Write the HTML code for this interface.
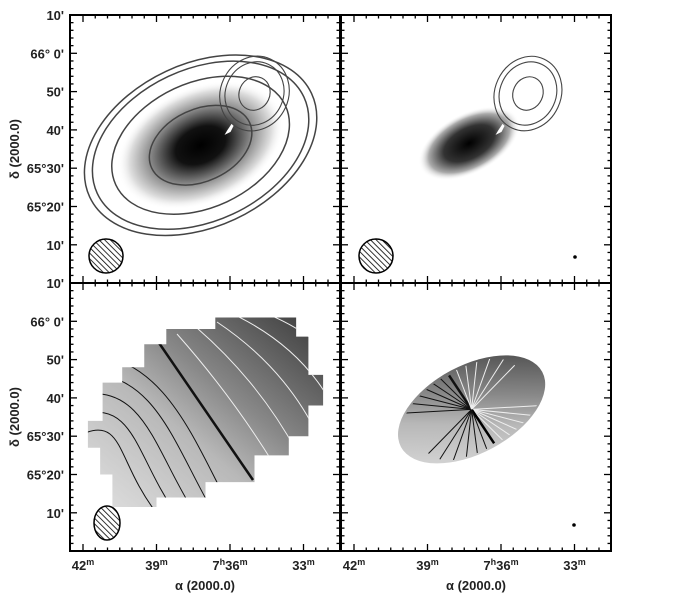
<!DOCTYPE html>
<html><head><meta charset="utf-8"><style>
body{margin:0;background:#fff}
svg{display:block;font-family:"Liberation Sans",sans-serif}
</style></head><body>
<svg id="fig" width="681" height="599" viewBox="0 0 681 599">
<defs>
<radialGradient id="hi" cx="0.5" cy="0.5" r="0.5">
<stop offset="0" stop-color="#000"/><stop offset="0.3" stop-color="#111"/><stop offset="0.6" stop-color="#888"/><stop offset="0.85" stop-color="#ddd"/><stop offset="1" stop-color="#fff" stop-opacity="0"/>
</radialGradient>
<radialGradient id="opt" cx="0.5" cy="0.5" r="0.5">
<stop offset="0" stop-color="#000"/><stop offset="0.5" stop-color="#333"/><stop offset="0.8" stop-color="#aaa"/><stop offset="1" stop-color="#fff" stop-opacity="0"/>
</radialGradient>
<linearGradient id="vel" x1="0" y1="1" x2="1" y2="0">
<stop offset="0" stop-color="#e0e0e0"/><stop offset="0.4" stop-color="#b8b8b8"/><stop offset="0.6" stop-color="#888"/><stop offset="1" stop-color="#3a3a3a"/>
</linearGradient>
<pattern id="hatch" width="4" height="4" patternUnits="userSpaceOnUse" patternTransform="rotate(-45)">
<rect width="4" height="4" fill="#fff"/><line x1="0" y1="0" x2="0" y2="4" stroke="#000" stroke-width="1.6"/>
</pattern>
<clipPath id="velclip"><polygon id="velclipPoly" points=""/></clipPath>
<clipPath id="optclip"><ellipse id="optclipEl"/></clipPath>
</defs>
<g id="content"></g>
<g id="axes"></g>
</svg>
<script>
const yTickLabels=["10'","66° 0'","50'","40'","65°30'","65°20'","10'"];
const yTickVals=[70,60,50,40,30,20,10];
const xTickLabels=["42","39","7h36","33"];
const xTickVals=[42,39,36,33];
const hiLevels=[0.45,0.78,0.95,1.02];
const velLevelsLeft=[-5,-4,-3,-2,-1,0,1,2,3,4,5];
const velLevelsRight=[-6,-5,-4,-3,-2,-1,0,1,2,3,4,5,6];

const NS="http://www.w3.org/2000/svg";
const content=document.getElementById('content');
const axes=document.getElementById('axes');
function mk(tag,attrs,parent){const e=document.createElementNS(NS,tag);for(const k in attrs)e.setAttribute(k,attrs[k]);(parent||content).appendChild(e);return e;}

const panels=[{x0:70,y0:15},{x0:341,y0:15},{x0:70,y0:283},{x0:341,y0:283}];
const PW=270,PH=268;
function xs(p,ra){return panels[p].x0+13+(42-ra)*24.5;}
function ys(p,dm){return panels[p].y0+(70-dm)*3.83;}

(function(){
  const cx=xs(0,37.2),cy=ys(0,36);
  let g=mk('g',{transform:`rotate(-25 ${cx} ${cy})`});
  
  mk('ellipse',{cx,cy,rx:88,ry:58,fill:'url(#hi)'},g);
  hiLevels.forEach((l)=>{
    const e=mk('ellipse',{cx,cy,rx:120*l,ry:80*l,fill:'none',stroke:'#444','stroke-width':1.5},g);
    
  });
  const ox=xs(0,35.0),oy=ys(0,49.5);
  [1,0.85,0.45].forEach(s=>{
    const e=mk('ellipse',{cx:ox,cy:oy,rx:34*s,ry:38*s,fill:'none',stroke:'#444','stroke-width':1.1,transform:`rotate(25 ${ox} ${oy})`});
    
  });
  mk('path',{d:`M${xs(0,36.1)} ${ys(0,40)} l4 -6 l2 2 l-3 6 l-6 3z`,fill:'#fff'});
})();
(function(){
  const cx=xs(1,37.3),cy=ys(1,36.5);
  const e=mk('ellipse',{cx,cy,rx:55,ry:30,fill:'url(#opt)',transform:`rotate(-28 ${cx} ${cy})`});
  
  const ox=xs(1,34.9),oy=ys(1,49.5);
  [1,0.85,0.45].forEach(s=>{
    const c=mk('ellipse',{cx:ox,cy:oy,rx:33*s,ry:38*s,fill:'none',stroke:'#444','stroke-width':1.1,transform:`rotate(25 ${ox} ${oy})`});
    
  });
  mk('path',{d:`M${xs(1,36.1)} ${ys(1,40)} l4 -6 l2 2 l-3 6 l-6 3z`,fill:'#fff'});
  mk('circle',{cx:575,cy:257,r:1.8,fill:'#000'});
})();
(function(){
  const pts=[[41.8,34],[41.2,34],[41.2,44],[40.4,44],[40.4,48],[39.5,48],[39.5,54],[38.6,54],[38.6,58],[36.6,58],[36.6,61],[33.3,61],[33.3,56],[32.8,56],[32.8,46],[32.2,46],[32.2,38],[32.8,38],[32.8,30],[33.6,30],[33.6,25],[35,25],[35,18],[37,18],[37,14],[39,14],[39,11.5],[40.8,11.5],[40.8,20],[41.3,20],[41.3,27],[41.8,27]];
  const ptsStr=pts.map(q=>xs(2,q[0])+','+ys(2,q[1])).join(' ');
  document.getElementById('velclipPoly').setAttribute('points',ptsStr);
  const p=mk('polygon',{points:ptsStr,fill:'url(#vel)'});
  
  const g=mk('g',{'clip-path':'url(#velclip)'});
  velLevelsLeft.forEach(v=>{
    let d;
    if(v>=0){
      const x1=157+v*20,y1=340-v*6, x2=253+v*22,y2=480-v*14;
      d=`M${x1} ${y1} Q${(x1+x2)/2+v*6} ${(y1+y2)/2-v*4} ${x2} ${y2}`;
    }else{
      const k=-v;
      const y0=335+k*16, x2=253-k*19;
      d=`M80 ${y0+k*4} C${175-k*10} ${y0} ${215-k*20} ${440+k*4} ${x2} 515`;
    }
    const l=mk('path',{d,fill:'none',stroke:v<=0?'#111':'#eee','stroke-width':v===0?2.5:1},g);
    
  });
})();
(function(){
  const cx=xs(3,37.2),cy=ys(3,37);
  const e=mk('ellipse',{cx,cy,rx:80,ry:44,fill:'url(#vel)',transform:`rotate(-28 ${cx} ${cy})`});
  
  const ce=document.getElementById('optclipEl');
  ce.setAttribute('cx',cx);ce.setAttribute('cy',cy);ce.setAttribute('rx',78);ce.setAttribute('ry',42);ce.setAttribute('transform',`rotate(-28 ${cx} ${cy})`);
  const g=mk('g',{'clip-path':'url(#optclip)'});
  velLevelsRight.forEach(v=>{
    const a=(-28+90+v*11)*Math.PI/180;
    const r=v===0?48:70;
    const x2=cx+Math.cos(a)*r,y2=cy+Math.sin(a)*r*0.8;
    const l=mk('path',{d:`M${cx} ${cy} L${x2} ${y2}`,fill:'none',stroke:v>0?'#111':(v===0?'#000':'#eee'),'stroke-width':v===0?2.5:1},g);
    const l2=mk('path',{d:`M${cx} ${cy} L${2*cx-x2} ${2*cy-y2}`,fill:'none',stroke:v>0?'#eee':'#111','stroke-width':v===0?2.5:1},g);
    
    
  });
  mk('circle',{cx:574,cy:525,r:1.8,fill:'#000'});
})();
[[0,106,256,17,17],[1,376,256,17,17],[2,107,523,13,17]].forEach(([p,x,y,rx,ry])=>{
  const b=mk('ellipse',{cx:x,cy:y,rx,ry,fill:'url(#hatch)',stroke:'#000','stroke-width':1.5});
  
});
panels.forEach((pn,p)=>{
  const f=mk('rect',{x:pn.x0,y:pn.y0,width:PW,height:PH,fill:'none',stroke:'#000','stroke-width':2},axes);
  
  for(let m=43;m>=31;m-=0.5){
    const x=xs(p,m); if(x<pn.x0+1||x>pn.x0+PW-1)continue;
    const len=(m%3===0)?7:3.5;
    mk('line',{x1:x,y1:pn.y0+PH,x2:x,y2:pn.y0+PH-len,stroke:'#000','stroke-width':1.3},axes);
    mk('line',{x1:x,y1:pn.y0,x2:x,y2:pn.y0+len,stroke:'#000','stroke-width':1.3},axes);
  }
  for(let d=0;d<=70;d+=2){
    const y=ys(p,d); if(y<pn.y0+1||y>pn.y0+PH-1)continue;
    const len=(d%10===0)?7:3.5;
    mk('line',{x1:pn.x0,y1:y,x2:pn.x0+len,y2:y,stroke:'#000','stroke-width':1.3},axes);
    mk('line',{x1:pn.x0+PW,y1:y,x2:pn.x0+PW-len,y2:y,stroke:'#000','stroke-width':1.3},axes);
  }
});
[0,2].forEach(p=>{
  yTickVals.forEach((v,i)=>{
    if(p===2&&i===0)return;
    const t=mk('text',{x:64,y:ys(p,v)+5,'text-anchor':'end','font-size':13,'font-weight':'bold',fill:'#222'},axes);
    t.textContent=yTickLabels[i];
    
  });
  const lbl=mk('text',{x:0,y:0,'font-size':13,'font-weight':'bold',fill:'#222','text-anchor':'middle',transform:`translate(19 ${panels[p].y0+134}) rotate(-90)`},axes);
  lbl.textContent='δ (2000.0)';
  
});
const bt=mk('text',{x:64,y:288,'text-anchor':'end','font-size':13,'font-weight':'bold',fill:'#222'},axes);bt.textContent="10'";

[2,3].forEach(p=>{
  xTickVals.forEach((v,i)=>{
    const t=mk('text',{x:xs(p,v),y:570,'text-anchor':'middle','font-size':13,'font-weight':'bold',fill:'#222'},axes);
    t.innerHTML=i===2?'7<tspan dy="-5" font-size="9">h</tspan><tspan dy="5">36</tspan><tspan dy="-5" font-size="9">m</tspan>':xTickLabels[i]+'<tspan dy="-5" font-size="9">m</tspan>';
    
  });
  const lbl=mk('text',{x:panels[p].x0+135,y:590,'text-anchor':'middle','font-size':13,'font-weight':'bold',fill:'#222'},axes);
  lbl.textContent='α (2000.0)';
  
});
</script>
</body></html>
